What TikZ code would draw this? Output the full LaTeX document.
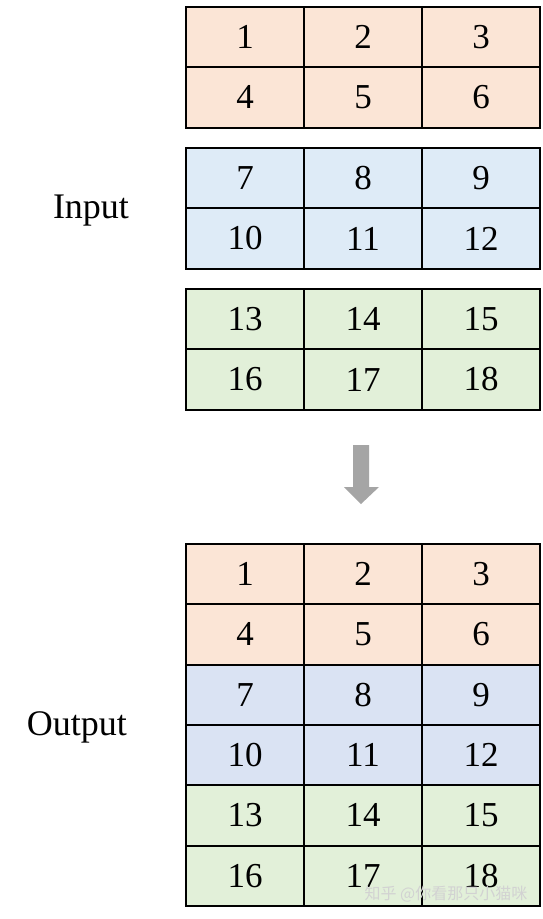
\documentclass[tikz,border=0pt]{standalone}
\usepackage{fontspec}
\setmainfont{Liberation Serif}
\newfontfamily\cjkfont{Noto Sans CJK SC}
\definecolor{peach}{HTML}{FBE5D6}
\definecolor{lblue}{HTML}{DEEBF7}
\definecolor{lblueb}{HTML}{DAE3F3}
\definecolor{lgreen}{HTML}{E2F0D9}
\definecolor{arrgray}{HTML}{A5A5A5}
\begin{document}
\begin{tikzpicture}[x=1pt,y=-1pt,
  cellbox/.style={draw=black,line width=2pt,minimum width=118pt,minimum height=60.3pt,inner sep=0pt,anchor=north west,font=\fontsize{35}{35}\selectfont},
  lbl/.style={font=\fontsize{36}{36}\selectfont,inner sep=0pt}]
\useasboundingbox (0,0) rectangle (542,919);
\fill[white] (0,0) rectangle (542,919);
% input blocks
\foreach \r/\yy/\c in {0/6/peach,1/147/lblue,2/288/lgreen}{
  \foreach \i in {0,1}{
    \foreach \j in {0,1,2}{
      \pgfmathtruncatemacro{\n}{\r*6+\i*3+\j+1}
      \node[cellbox,fill=\c] (in\n) at (185+\j*118,\yy+\i*60.3) {\raisebox{-1pt}{\n}};
    }
  }
}
% output block
\foreach \i/\c in {0/peach,1/peach,2/lblueb,3/lblueb,4/lgreen,5/lgreen}{
  \foreach \j in {0,1,2}{
    \pgfmathtruncatemacro{\n}{\i*3+\j+1}
    \node[cellbox,fill=\c] (out\n) at (185+\j*118,543+\i*60.3) {\raisebox{-1pt}{\n}};
  }
}
\node[lbl] (inlabel) at (91,211) {Input};
\node[lbl] (outlabel) at (77,727) {Output};
% arrow
\fill[arrgray] (353,445) -- (369,445) -- (369,487) -- (379,487) -- (361,504) -- (344,487) -- (353,487) -- cycle;
\node[font=\cjkfont\fontsize{16}{16}\selectfont,text=gray!35,inner sep=0pt] (wm) at (446,894) {知乎 @你看那只小猫咪};
\end{tikzpicture}
\end{document}
